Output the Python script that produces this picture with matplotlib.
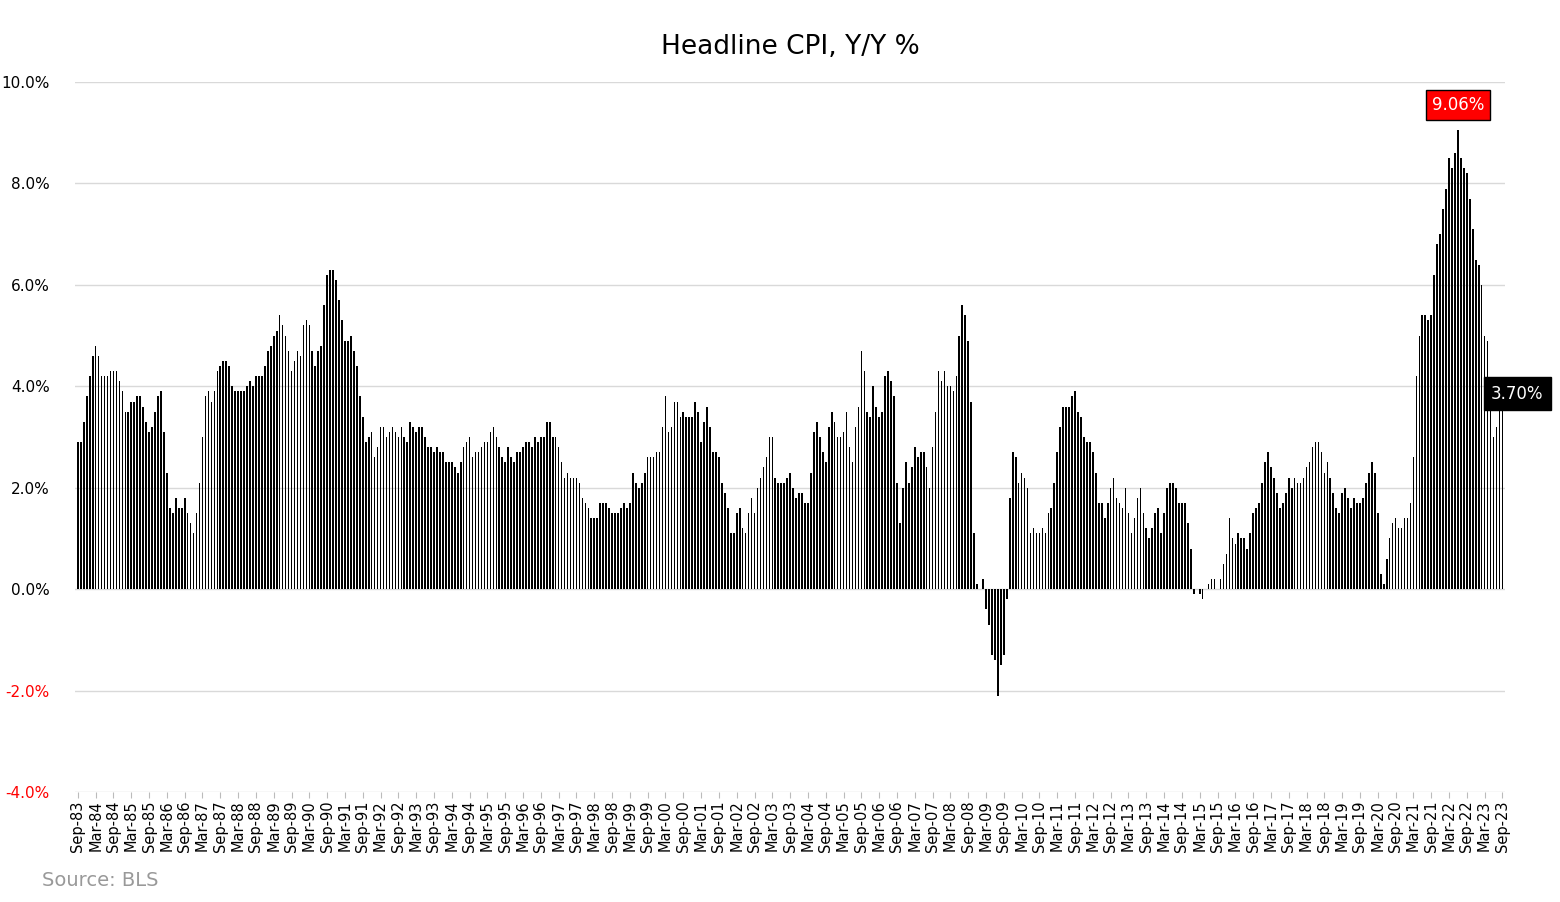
import matplotlib
matplotlib.use("Agg")
import matplotlib.pyplot as plt
import pandas as pd

values = [
2.9, 2.9, 3.3, 3.8,
4.2, 4.6, 4.8, 4.6, 4.2, 4.2, 4.2, 4.3, 4.3, 4.3, 4.1, 3.9,
3.5, 3.5, 3.7, 3.7, 3.8, 3.8, 3.6, 3.3, 3.1, 3.2, 3.5, 3.8,
3.9, 3.1, 2.3, 1.6, 1.5, 1.8, 1.6, 1.6, 1.8, 1.5, 1.3, 1.1,
1.5, 2.1, 3.0, 3.8, 3.9, 3.7, 3.9, 4.3, 4.4, 4.5, 4.5, 4.4,
4.0, 3.9, 3.9, 3.9, 3.9, 4.0, 4.1, 4.0, 4.2, 4.2, 4.2, 4.4,
4.7, 4.8, 5.0, 5.1, 5.4, 5.2, 5.0, 4.7, 4.3, 4.5, 4.7, 4.6,
5.2, 5.3, 5.2, 4.7, 4.4, 4.7, 4.8, 5.6, 6.2, 6.3, 6.3, 6.1,
5.7, 5.3, 4.9, 4.9, 5.0, 4.7, 4.4, 3.8, 3.4, 2.9, 3.0, 3.1,
2.6, 2.8, 3.2, 3.2, 3.0, 3.1, 3.2, 3.1, 3.0, 3.2, 3.0, 2.9,
3.3, 3.2, 3.1, 3.2, 3.2, 3.0, 2.8, 2.8, 2.7, 2.8, 2.7, 2.7,
2.5, 2.5, 2.5, 2.4, 2.3, 2.5, 2.8, 2.9, 3.0, 2.6, 2.7, 2.7,
2.8, 2.9, 2.9, 3.1, 3.2, 3.0, 2.8, 2.6, 2.5, 2.8, 2.6, 2.5,
2.7, 2.7, 2.8, 2.9, 2.9, 2.8, 3.0, 2.9, 3.0, 3.0, 3.3, 3.3,
3.0, 3.0, 2.8, 2.5, 2.2, 2.3, 2.2, 2.2, 2.2, 2.1, 1.8, 1.7,
1.6, 1.4, 1.4, 1.4, 1.7, 1.7, 1.7, 1.6, 1.5, 1.5, 1.5, 1.6,
1.7, 1.6, 1.7, 2.3, 2.1, 2.0, 2.1, 2.3, 2.6, 2.6, 2.6, 2.7,
2.7, 3.2, 3.8, 3.1, 3.2, 3.7, 3.7, 3.4, 3.5, 3.4, 3.4, 3.4,
3.7, 3.5, 2.9, 3.3, 3.6, 3.2, 2.7, 2.7, 2.6, 2.1, 1.9, 1.6,
1.1, 1.1, 1.5, 1.6, 1.2, 1.1, 1.5, 1.8, 1.5, 2.0, 2.2, 2.4,
2.6, 3.0, 3.0, 2.2, 2.1, 2.1, 2.1, 2.2, 2.3, 2.0, 1.8, 1.9,
1.9, 1.7, 1.7, 2.3, 3.1, 3.3, 3.0, 2.7, 2.5, 3.2, 3.5, 3.3,
3.0, 3.0, 3.1, 3.5, 2.8, 2.5, 3.2, 3.6, 4.7, 4.3, 3.5, 3.4,
4.0, 3.6, 3.4, 3.5, 4.2, 4.3, 4.1, 3.8, 2.1, 1.3, 2.0, 2.5,
2.1, 2.4, 2.8, 2.6, 2.7, 2.7, 2.4, 2.0, 2.8, 3.5, 4.3, 4.1,
4.3, 4.0, 4.0, 3.9, 4.2, 5.0, 5.6, 5.4, 4.9, 3.7, 1.1, 0.1,
0.0, 0.2, -0.4, -0.7, -1.3, -1.4, -2.1, -1.5, -1.3, -0.2, 1.8, 2.7,
2.6, 2.1, 2.3, 2.2, 2.0, 1.1, 1.2, 1.1, 1.1, 1.2, 1.1, 1.5,
1.6, 2.1, 2.7, 3.2, 3.6, 3.6, 3.6, 3.8, 3.9, 3.5, 3.4, 3.0,
2.9, 2.9, 2.7, 2.3, 1.7, 1.7, 1.4, 1.7, 2.0, 2.2, 1.8, 1.7,
1.6, 2.0, 1.5, 1.1, 1.4, 1.8, 2.0, 1.5, 1.2, 1.0, 1.2, 1.5,
1.6, 1.1, 1.5, 2.0, 2.1, 2.1, 2.0, 1.7, 1.7, 1.7, 1.3, 0.8,
-0.1, 0.0, -0.1, -0.2, 0.0, 0.1, 0.2, 0.2, 0.0, 0.2, 0.5, 0.7,
1.4, 1.0, 0.9, 1.1, 1.0, 1.0, 0.8, 1.1, 1.5, 1.6, 1.7, 2.1,
2.5, 2.7, 2.4, 2.2, 1.9, 1.6, 1.7, 1.9, 2.2, 2.0, 2.2, 2.1,
2.1, 2.2, 2.4, 2.5, 2.8, 2.9, 2.9, 2.7, 2.3, 2.5, 2.2, 1.9,
1.6, 1.5, 1.9, 2.0, 1.8, 1.6, 1.8, 1.7, 1.7, 1.8, 2.1, 2.3,
2.5, 2.3, 1.5, 0.3, 0.1, 0.6, 1.0, 1.3, 1.4, 1.2, 1.2, 1.4,
1.4, 1.7, 2.6, 4.2, 5.0, 5.4, 5.4, 5.3, 5.4, 6.2, 6.8, 7.0,
7.5, 7.9, 8.5, 8.3, 8.6, 9.06, 8.5, 8.3, 8.2, 7.7, 7.1, 6.5,
6.4, 6.0, 5.0, 4.9, 4.0, 3.0, 3.2, 3.7, 3.7,
]
dates = pd.date_range("1983-09-01", periods=len(values), freq="MS")
tick_labels = [d.strftime("%b-%y") for d in dates[::6]]
y_ticks = [-4, -2, 0, 2, 4, 6, 8, 10]
title = "Headline CPI, Y/Y %"
peak_label = "9.06%"
last_label = "3.70%"
source = "Source: BLS"

fig = plt.figure(figsize=(15.6, 9.02), dpi=100)
ax = fig.add_axes([0.048, 0.122, 0.917, 0.787])
x = list(range(len(values)))
ax.bar(x, values, width=0.55, color="black")
ax.set_xlim(-1, len(values))
ax.set_ylim(-4, 10)
ax.set_yticks(y_ticks)
ax.set_yticklabels([f"{v:.1f}%" for v in y_ticks], fontsize=11)
for lab, v in zip(ax.get_yticklabels(), y_ticks):
    if v < 0:
        lab.set_color("red")
ax.set_xticks(x[::6])
ax.set_xticklabels(tick_labels, rotation=90, fontsize=10.5)
ax.tick_params(axis="y", length=0, pad=18)
ax.tick_params(axis="x", length=4, color="#bbbbbb", pad=2)
ax.grid(axis="y", color="#d9d9d9", linewidth=1)
ax.set_axisbelow(True)
for s in ax.spines.values():
    s.set_visible(False)
ax.set_title(title, fontsize=19, pad=20)

pk = values.index(max(values))
ax.text(pk, 9.55, peak_label, color="white", fontsize=12, ha="center", va="center",
        bbox=dict(boxstyle="square,pad=0.35", fc="#ff0000", ec="black", lw=1))
ax.text(len(values) + 4, values[-1] + 0.15, last_label, color="white", fontsize=12,
        ha="center", va="center", clip_on=False,
        bbox=dict(boxstyle="square,pad=0.45", fc="black", ec="black"))
fig.text(0.027, 0.018, source, color="#999999", fontsize=14)
fig.savefig("out.png", dpi=100)
